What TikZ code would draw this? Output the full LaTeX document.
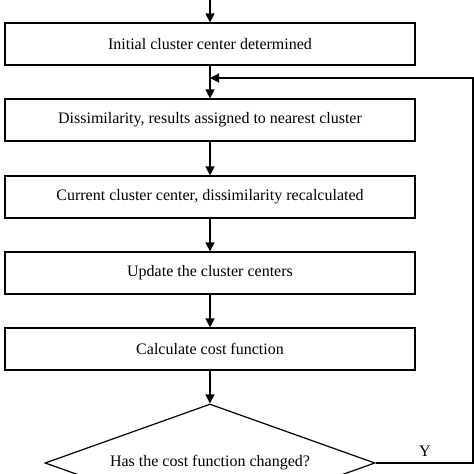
\documentclass[tikz,border=0pt]{standalone}
\usepackage{fontspec}
\setmainfont{Liberation Serif}
\usetikzlibrary{arrows.meta,positioning,shapes.geometric}

\begin{document}
\begin{tikzpicture}[x=1pt,y=-1pt,
	box/.style={draw,line width=1.2pt,minimum width=410pt,minimum height=42pt,inner sep=0pt,font=\fontsize{16}{19}\selectfont},
	decision/.style={draw,diamond,aspect=2.8,line width=1.2pt,minimum width=330pt,minimum height=118pt,inner sep=0pt,font=\fontsize{16}{19}\selectfont},
	arr/.style={line width=1.2pt,-{Triangle[length=9pt,width=9pt]}}]
			\clip (0,0) rectangle (474,474);
			\coordinate (start) at (210,0);
			\node[box] (init) at (210,44) {Initial cluster center determined};
			\node[box] (assign) at (210,120) {Dissimilarity, results assigned to nearest cluster};
			\node[box] (recalc) at (210,197) {Current cluster center, dissimilarity recalculated};
			\node[box] (update) at (210,273) {Update the cluster centers};
			\node[box] (cost) at (210,349) {Calculate cost function};
			\node[decision] (changed) at (210,463) {Has the cost function changed?};
			\coordinate (join) at (210,78);
			\coordinate (turn) at (473,463);
			\node[font=\fontsize{16}{19}\selectfont] (lblY) at (425,451) {Y};
			\draw[arr] (start)--(init);
			\draw[arr] (init)--(assign);
			\draw[arr] (assign)--(recalc);
			\draw[arr] (recalc)--(update);
			\draw[arr] (update)--(cost);
			\draw[arr] (cost)--(changed);
			\draw[arr] (changed.east)--(turn)|-(join);
		\end{tikzpicture}
\end{document}
